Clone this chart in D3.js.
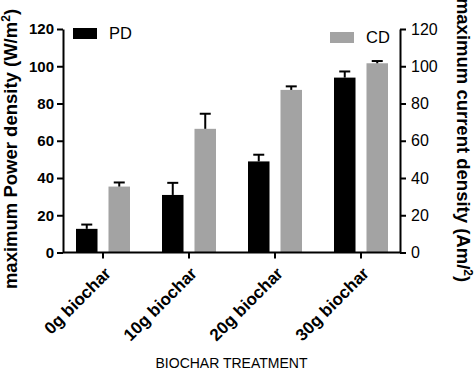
<!DOCTYPE html>
<html>
<head>
<meta charset="utf-8">
<script src="https://cdn.jsdelivr.net/npm/d3@7/dist/d3.min.js"></script>
<style>
    body { margin: 0; background: #fff; }
    svg { display: block; font-family: "Liberation Sans", Arial, sans-serif; }
    .axis path, .axis line { stroke: #000; stroke-width: 2px; }
    .axis text { font-size: 15px; font-weight: bold; fill: #000; }
</style>
</head>
<body>
<svg id="chart" width="474" height="372"></svg>
<script>
var categories = ['0g biochar', '10g biochar', '20g biochar', '30g biochar'];
var seriesNames = ['PD', 'CD'];
var pdValues = [12.7, 30.9, 48.9, 93.9];
var pdErrors = [2.3, 6.5, 3.6, 3.3];
var cdValues = [35.4, 66.4, 87.3, 101.6];
var cdErrors = [2.2, 8.1, 1.9, 1.2];
var yTicks = [0, 20, 40, 60, 80, 100, 120];

var colors = { PD: '#000000', CD: '#a3a3a3' };

var svg = d3.select('#chart');
svg.append('rect').attr('width', 474).attr('height', 372).attr('fill', '#fff');

// plot box
var plotLeft = 63, plotRight = 400, plotTop = 29, plotBottom = 252.5;

var y = d3.scaleLinear().domain([0, 120]).range([plotBottom, plotTop]);
var x = d3.scaleBand().domain(categories).range([60, 404]);
var xs = d3.scaleBand().domain(seriesNames).range([-27, 27]).paddingInner(0.338);

// bars + error bars
var rows = categories.map(function (c, i) {
    return [
        { cat: c, key: 'PD', v: pdValues[i], e: pdErrors[i] },
        { cat: c, key: 'CD', v: cdValues[i], e: cdErrors[i] }
    ];
});
var flat = [].concat.apply([], rows);

function barX(d) { return x(d.cat) + x.bandwidth() / 2 + xs(d.key); }

svg.append('g').selectAll('rect').data(flat).enter().append('rect')
    .attr('x', barX)
    .attr('y', function (d) { return y(d.v); })
    .attr('width', xs.bandwidth())
    .attr('height', function (d) { return y(0) - y(d.v); })
    .attr('fill', function (d) { return colors[d.key]; });

var err = svg.append('g').attr('stroke', '#000').attr('stroke-width', 2)
    .selectAll('g').data(flat).enter().append('g')
    .attr('transform', function (d) { return 'translate(' + (barX(d) + xs.bandwidth() / 2) + ',0)'; });
err.append('line')
    .attr('x1', 0).attr('x2', 0)
    .attr('y1', function (d) { return y(d.v); })
    .attr('y2', function (d) { return y(d.v + d.e); });
err.append('line')
    .attr('x1', -5.5).attr('x2', 5.5)
    .attr('y1', function (d) { return y(d.v + d.e); })
    .attr('y2', function (d) { return y(d.v + d.e); });

// axes
svg.append('g').attr('class', 'axis').attr('transform', 'translate(' + plotLeft + ',0)')
    .call(d3.axisLeft(y).tickValues(yTicks).tickSize(6).tickSizeOuter(0).tickPadding(3));
var yr = svg.append('g').attr('class', 'axis').attr('transform', 'translate(' + plotRight + ',0)')
    .call(d3.axisRight(y).tickValues(yTicks).tickSize(6).tickSizeOuter(0).tickPadding(5));
yr.selectAll('text').style('font-weight', 'normal').style('font-size', '16px');

var xa = svg.append('g').attr('class', 'axis').attr('transform', 'translate(0,' + plotBottom + ')')
    .call(d3.axisBottom(x).tickSize(6).tickSizeOuter(0));
xa.select('.domain').attr('d', 'M' + plotLeft + ',0H' + plotRight);
xa.selectAll('text')
    .attr('text-anchor', 'end')
    .attr('x', 0).attr('y', 0).attr('dy', 0)
    .attr('transform', 'translate(9,22) rotate(-45)')
    .style('font-size', '17px');

// axis titles
var lt = svg.append('text')
    .attr('transform', 'translate(17,149) rotate(-90)')
    .attr('text-anchor', 'middle')
    .style('font-size', '18.5px').style('font-weight', 'bold');
lt.append('tspan').text('maximum Power density (W/m');
lt.append('tspan').attr('dy', -7).style('font-size', '12px').text('2');
lt.append('tspan').attr('dy', 7).text(')');

var rt = svg.append('text')
    .attr('transform', 'translate(457,140) rotate(90)')
    .attr('text-anchor', 'middle')
    .style('font-size', '18.5px').style('font-weight', 'bold');
rt.append('tspan').text('maximum current density (Am/');
rt.append('tspan').attr('dy', -7).style('font-size', '12px').text('2');
rt.append('tspan').attr('dy', 7).text(')');

svg.append('text')
    .attr('x', 231.5).attr('y', 368)
    .attr('text-anchor', 'middle')
    .style('font-size', '14px')
    .text('BIOCHAR TREATMENT');

// legend
var legendPos = { PD: [73, 28], CD: [330, 32] };
var lg = svg.append('g').selectAll('g').data(seriesNames).enter().append('g')
    .attr('transform', function (d) { return 'translate(' + legendPos[d][0] + ',' + legendPos[d][1] + ')'; });
lg.append('rect').attr('width', 24).attr('height', 11)
    .attr('fill', function (d) { return colors[d]; });
lg.append('text').attr('x', 36).attr('y', 11)
    .style('font-size', '16.5px')
    .text(function (d) { return d; });
</script>
</body>
</html>
